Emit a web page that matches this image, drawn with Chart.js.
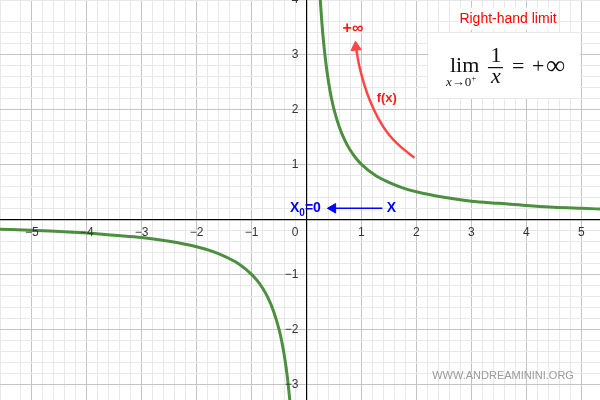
<!DOCTYPE html>
<html>
<head>
<meta charset="utf-8">
<script src="https://cdn.jsdelivr.net/npm/chart.js@4/dist/chart.umd.min.js"></script>
<style>
  html, body { margin: 0; padding: 0; background: #fff; }
  #wrap { width: 600px; height: 400px; position: relative; }
</style>
</head>
<body>
<div id="wrap"><canvas id="chart"></canvas></div>
<script>
'use strict';

/* ---- Data ---- */
// f(x) = 1/x, left branch
const negX = [-5.6, -5, -4.5, -4, -3.5, -3, -2.5, -2, -1.75, -1.5, -1.25, -1, -0.9, -0.8, -0.7, -0.6, -0.5, -0.45, -0.4, -0.35, -0.3, -0.28];
const negY = [-0.18, -0.2, -0.22, -0.25, -0.29, -0.33, -0.4, -0.5, -0.57, -0.67, -0.8, -1, -1.11, -1.25, -1.43, -1.67, -2, -2.22, -2.5, -2.86, -3.33, -3.57];
// f(x) = 1/x, right branch
const posX = [0.24, 0.26, 0.28, 0.3, 0.35, 0.4, 0.45, 0.5, 0.6, 0.7, 0.8, 0.9, 1, 1.25, 1.5, 1.75, 2, 2.5, 3, 3.5, 4, 4.5, 5, 5.4];
const posY = [4.17, 3.85, 3.57, 3.33, 2.86, 2.5, 2.22, 2, 1.67, 1.43, 1.25, 1.11, 1, 0.8, 0.67, 0.57, 0.5, 0.4, 0.33, 0.29, 0.25, 0.22, 0.2, 0.185];
// red arrow f(x) -> +inf (arrow head at the first point)
const redX = [0.9, 0.922, 0.969, 1.054, 1.161, 1.303, 1.483, 1.711, 1.965];
const redY = [3.13, 2.99, 2.75, 2.44, 2.14, 1.84, 1.56, 1.32, 1.12];
// blue arrow x -> x0 (arrow head at the first point)
const blueX = [0.48, 1.38];
const blueY = [0.2, 0.2];

const xTicks = [-5, -4, -3, -2, -1, 0, 1, 2, 3, 4, 5];
const yTicks = [-3, -2, -1, 1, 2, 3, 4];

/* ---- Styles ---- */
const COLORS = {
  curve: '#4c8f3f',
  red: '#ff4545',
  redText: '#ff1a1a',
  blue: '#0000ff',
  major: '#c4c4c4',
  minor: '#e8e8e8',
  tick: '#333333',
  mark: '#9a9a9a',
};
const SANS = '"Liberation Sans", Arial, sans-serif';
const SERIF = '"Liberation Serif", "Times New Roman", serif';

function toPoints(xs, ys) {
  return xs.map((x, i) => ({ x, y: ys[i] }));
}

function gridColor(ctx) {
  if (!ctx.tick) return COLORS.minor;
  const v = Math.round(ctx.tick.value * 1000) / 1000;
  if (v === 0) return 'rgba(0,0,0,0)';
  return Number.isInteger(v) ? COLORS.major : COLORS.minor;
}

function minus(v) {
  return v < 0 ? '\u2212' + Math.abs(v) : String(v);
}

/* ---- Labels, tick labels and formula ---- */
const notesPlugin = {
  id: 'notes',
  afterDatasetsDraw(chart) {
    const ctx = chart.ctx;
    const xs = chart.scales.x, ys = chart.scales.y;
    const px = v => xs.getPixelForValue(v);
    const py = v => ys.getPixelForValue(v);
    const ax = px(0), ay = py(0);
    ctx.save();

    // tick labels
    ctx.fillStyle = COLORS.tick;
    ctx.font = '12px ' + SANS;
    ctx.textBaseline = 'middle';
    xTicks.forEach(v => {
      if (v === 0) {
        ctx.textAlign = 'right';
        ctx.fillText('0', ax - 8, ay + 13);
      } else {
        ctx.textAlign = 'center';
        ctx.fillText(minus(v), px(v), ay + 13);
      }
    });
    ctx.textAlign = 'right';
    yTicks.forEach(v => ctx.fillText(minus(v), ax - 8, py(v)));

    // red labels
    ctx.fillStyle = COLORS.redText;
    ctx.textAlign = 'center';
    ctx.font = 'bold 16px ' + SANS;
    ctx.fillText('+\u221e', px(0.846), py(3.46));
    ctx.font = 'bold 13px ' + SANS;
    ctx.fillText('f(x)', px(1.46), py(2.19));

    // blue labels
    ctx.fillStyle = COLORS.blue;
    ctx.font = 'bold 14px ' + SANS;
    ctx.fillText('X', px(1.547), py(0.196));
    ctx.textAlign = 'left';
    let x0 = px(-0.3);
    const yb = py(0.205);
    ctx.fillText('X', x0, yb);
    x0 += ctx.measureText('X').width;
    ctx.font = 'bold 10px ' + SANS;
    ctx.fillText('0', x0, yb + 5);
    x0 += ctx.measureText('0').width;
    ctx.font = 'bold 14px ' + SANS;
    ctx.fillText('=0', x0, yb);

    // "Right-hand limit" caption
    ctx.fillStyle = '#fff';
    ctx.fillRect(px(2.757), py(3.845), px(4.577) - px(2.757), py(3.445) - py(3.845));
    ctx.fillStyle = '#ff0000';
    ctx.textAlign = 'center';
    ctx.font = '14px ' + SANS;
    ctx.fillText('Right-hand limit', px(3.667), py(3.642));

    // formula box
    const bx = px(2.21), by = py(3.387);
    ctx.fillStyle = '#fff';
    ctx.fillRect(bx, by, px(4.98) - bx, py(2.205) - by);
    ctx.fillStyle = '#111';
    ctx.textBaseline = 'alphabetic';
    ctx.textAlign = 'left';
    ctx.font = '22px ' + SERIF;
    ctx.fillText('lim', bx + 22, by + 39);
    let sx = bx + 18;
    ctx.font = 'italic 13px ' + SERIF;
    ctx.fillText('x', sx, by + 53);
    sx += ctx.measureText('x').width;
    ctx.font = '13px ' + SERIF;
    ctx.fillText('\u2192', sx, by + 53);
    sx += ctx.measureText('\u2192').width;
    ctx.fillText('0', sx, by + 53);
    sx += ctx.measureText('0').width;
    ctx.font = '9px ' + SERIF;
    ctx.fillText('+', sx, by + 48);
    ctx.textAlign = 'center';
    ctx.font = '22px ' + SERIF;
    ctx.fillText('1', bx + 68, by + 29);
    ctx.font = 'italic 22px ' + SERIF;
    ctx.fillText('x', bx + 68, by + 50);
    ctx.fillRect(bx + 60, by + 34, 15, 1.2);
    ctx.textAlign = 'left';
    ctx.font = '22px ' + SERIF;
    ctx.fillText('=', bx + 84, by + 40);
    ctx.fillText('+', bx + 104, by + 40);
    ctx.font = '27px ' + SERIF;
    ctx.fillText('\u221e', bx + 118, by + 41);

    // watermark
    ctx.fillStyle = COLORS.mark;
    ctx.textAlign = 'center';
    ctx.textBaseline = 'middle';
    ctx.font = '11px ' + SANS;
    ctx.fillText('WWW.ANDREAMININI.ORG', px(3.576), py(-2.85));
    ctx.restore();
  }
};

/* ---- Chart ---- */
function initChart() {
  const el = document.getElementById('chart');
  new Chart(el, {
    type: 'scatter',
    data: {
      datasets: [
        {
          data: toPoints(negX, negY),
          showLine: true, borderColor: COLORS.curve, borderWidth: 3,
          pointRadius: 0, cubicInterpolationMode: 'monotone',
        },
        {
          data: toPoints(posX, posY),
          showLine: true, borderColor: COLORS.curve, borderWidth: 3,
          pointRadius: 0, cubicInterpolationMode: 'monotone',
        },
        {
          data: toPoints(redX, redY),
          showLine: true, borderColor: COLORS.red, borderWidth: 2.5,
          cubicInterpolationMode: 'monotone',
          pointRadius: redX.map((_, i) => i === 0 ? 6 : 0),
          pointStyle: 'triangle', pointRotation: -5,
          pointBackgroundColor: COLORS.red, pointBorderColor: COLORS.red, pointBorderWidth: 1,
        },
        {
          data: toPoints(blueX, blueY),
          showLine: true, borderColor: COLORS.blue, borderWidth: 1.5,
          pointRadius: [5.5, 0],
          pointStyle: 'triangle', pointRotation: -90,
          pointBackgroundColor: COLORS.blue, pointBorderColor: COLORS.blue, pointBorderWidth: 1,
        }
      ]
    },
    options: {
      responsive: true, maintainAspectRatio: false, animation: false,
      events: [],
      layout: { padding: 0, autoPadding: false },
      plugins: { legend: { display: false }, tooltip: { enabled: false } },
      scales: {
        x: {
          type: 'linear', min: -5.578, max: 5.341, position: { y: 0 },
          ticks: { display: false, stepSize: 0.2 },
          grid: { color: gridColor, lineWidth: 1, drawTicks: false },
          border: { color: '#000', width: 1.2 }
        },
        y: {
          type: 'linear', min: -3.285, max: 3.987, position: { x: 0 },
          ticks: { display: false, stepSize: 0.2 },
          grid: { color: gridColor, lineWidth: 1, drawTicks: false },
          border: { color: '#000', width: 1.2 }
        }
      }
    },
    plugins: [notesPlugin]
  });
}

document.addEventListener('DOMContentLoaded', initChart);
</script>
</body>
</html>
